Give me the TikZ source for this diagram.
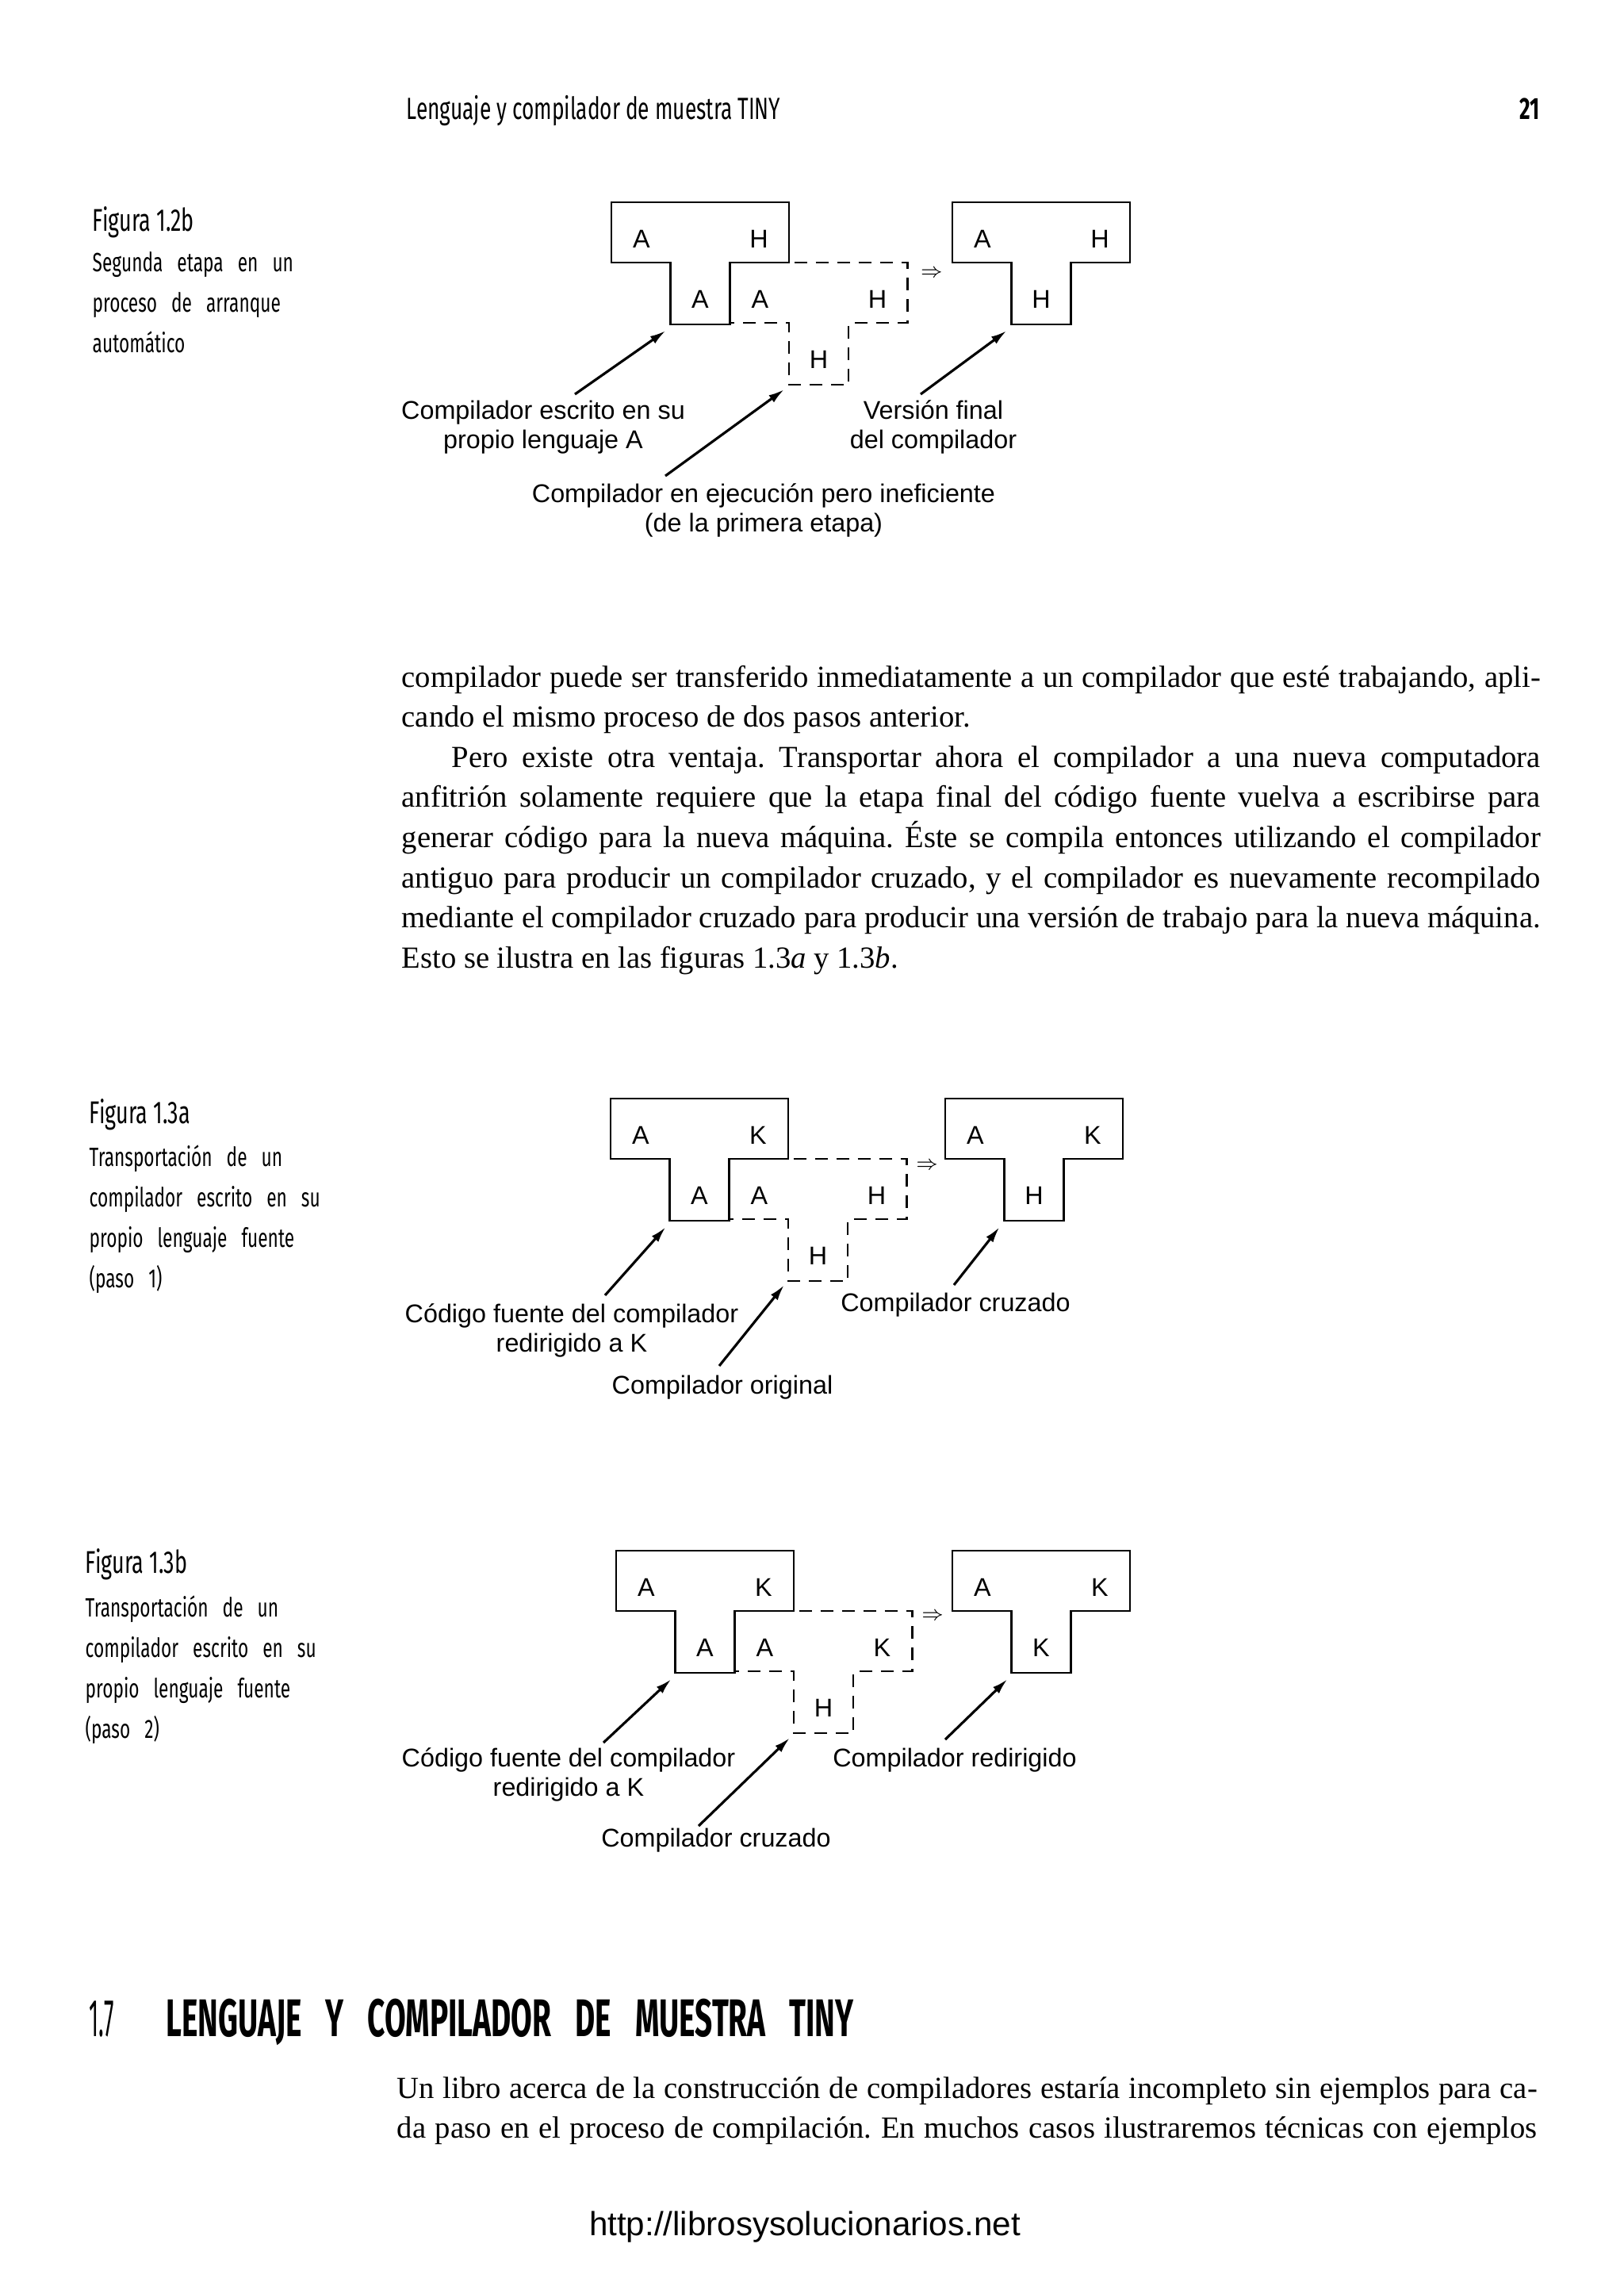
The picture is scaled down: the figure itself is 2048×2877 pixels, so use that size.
\documentclass[tikz,border=0pt]{standalone}
\usepackage{fontspec}
\setmainfont{Liberation Serif}
\newfontfamily\labfont{Liberation Sans}
\newfontfamily\capfont[FakeStretch=0.68]{Fira Sans}
\newfontfamily\headfont[FakeStretch=0.58]{Fira Sans}
\newfontfamily\numfont[FakeStretch=0.42]{Fira Sans}
\usetikzlibrary{arrows.meta}

\begin{document}
\begin{tikzpicture}[x=0.1mm, y=-0.1mm,
  tlet/.style={font=\labfont\fontsize{9.2}{10.4}\selectfont, inner sep=0pt},
  lab/.style={font=\labfont\fontsize{9.2}{10.4}\selectfont, align=center, inner sep=0pt, anchor=base},
  ptr/.style={line width=0.9pt, -{Latex[length=2mm, width=1.1mm]}},
  tdash/.style={dash pattern=on 1.6mm off 1.1mm},
  imp/.style={font=\fontsize{7}{8}\selectfont, inner sep=0pt},
  body/.style={font={\fontsize{11}{14.4}\selectfont\frenchspacing\parindent=0pt\relax}, text width=143.6mm, align=justify, inner sep=0pt, anchor=base west},
  capt/.style={font={\capfont\fontsize{9.5}{14.5}\selectfont\spaceskip=1.8mm\relax}, align=left, inner sep=0pt, anchor=base west},
  fig/.style={font=\capfont\fontsize{11.3}{13}\selectfont, inner sep=0pt, anchor=base west},
  pics/tee/.style n args={3}{code={
    \draw[line width=0.6pt] (0,0) -- (224,0) -- (224,76) -- (149.5,76) -- (149.5,154)
      -- (74.5,154) -- (74.5,76) -- (0,76) -- cycle;
    \node[tlet] (-tl) at (38,46) {#1};
    \node[tlet] (-tr) at (186,46) {#2};
    \node[tlet] (-bt) at (112,122) {#3};
    \coordinate (-sbl) at (74.5,154);
  }}
]
  \path[use as bounding box, fill=white] (0,0) rectangle (2048,2877);

  % page header
  \node[anchor=base west, inner sep=0pt, font=\capfont\fontsize{11}{13}\selectfont] (head) at (512,150) {Lenguaje y compilador de muestra TINY};
  \node[anchor=base east, inner sep=0pt, font=\capfont\bfseries\fontsize{11}{13}\selectfont] (pageno) at (1942,150) {21};

  % Figura 1.2b (multi-line nodes sit on their last line)
  \node[fig] (c1-t) at (116,291) {Figura 1.2b};
  \node[capt] (c1-x) at (116,444) {Segunda etapa en un\\proceso de arranque\\automático};

  \pic[tdash] (f1m) at (920.5,331) {tee={A}{H}{H}};
  \pic (f1l) at (771,255) {tee={A}{H}{A}};
  \pic (f1r) at (1201,255) {tee={A}{H}{H}};
  \node[imp] (f1-to) at (1175,345) {$\Rightarrow$};

  \node[lab] (f1-src) at (685,565) {Compilador escrito en su\\propio lenguaje A};
  \node[lab] (f1-fin) at (1177,565) {Versión final\\del compilador};
  \node[lab] (f1-run) at (963,670) {Compilador en ejecución pero ineficiente\\(de la primera etapa)};

  \coordinate (f1-s1) at (725,497);
  \coordinate (f1-s2) at (839,600);
  \coordinate (f1-s3) at (1161,497);
  \draw[ptr] (f1-s1) -- ([shift={(-6,8)}]f1l-sbl);
  \draw[ptr] (f1-s2) -- ([shift={(-6,6)}]f1m-sbl);
  \draw[ptr] (f1-s3) -- ([shift={(-6,8)}]f1r-sbl);

  % body text
  \node[body] (para1) at (506,866) {compilador puede ser transferido inmediatamente a un compilador que esté trabajando, apli-\linebreak cando el mismo proceso de dos pasos anterior.\par
  \hspace*{6.3mm}Pero existe otra ventaja. Transportar ahora el compilador a una nueva computadora\linebreak anfitrión solamente requiere que la etapa final del código fuente vuelva a escribirse para\linebreak generar código para la nueva máquina. Éste se compila entonces utilizando el compilador\linebreak antiguo para producir un compilador cruzado, y el compilador es nuevamente recompilado\linebreak mediante el compilador cruzado para producir una versión de trabajo para la nueva máquina.\linebreak Esto se ilustra en las figuras 1.3\textit{a} y 1.3\textit{b}.};

  % Figura 1.3a
  \node[fig] (c2-t) at (112,1416) {Figura 1.3a};
  \node[capt] (c2-x) at (112,1623) {Transportación de un\\compilador escrito en su\\propio lenguaje fuente\\(paso 1)};

  \pic[tdash] (f2m) at (919.5,1461) {tee={A}{H}{H}};
  \pic (f2l) at (770,1385) {tee={A}{K}{A}};
  \pic (f2r) at (1192,1385) {tee={A}{K}{H}};
  \node[imp] (f2-to) at (1169,1470) {$\Rightarrow$};

  \node[lab] (f2-src) at (721,1704) {Código fuente del compilador\\redirigido a K};
  \node[lab] (f2-crz) at (1205,1653) {Compilador cruzado};
  \node[lab] (f2-org) at (911,1757) {Compilador original};

  \coordinate (f2-s1) at (763,1633);
  \coordinate (f2-s2) at (907,1722);
  \coordinate (f2-s3) at (1203,1620);
  \draw[ptr] (f2-s1) -- ([shift={(-5,8)}]f2l-sbl);
  \draw[ptr] (f2-s2) -- ([shift={(-5,5)}]f2m-sbl);
  \draw[ptr] (f2-s3) -- ([shift={(-6,8)}]f2r-sbl);

  % Figura 1.3b
  \node[fig] (c3-t) at (107,1983) {Figura 1.3b};
  \node[capt] (c3-x) at (107,2191) {Transportación de un\\compilador escrito en su\\propio lenguaje fuente\\(paso 2)};

  \pic[tdash] (f3m) at (926.5,2031) {tee={A}{K}{H}};
  \pic (f3l) at (777,1955) {tee={A}{K}{A}};
  \pic (f3r) at (1201,1955) {tee={A}{K}{K}};
  \node[imp] (f3-to) at (1176,2038) {$\Rightarrow$};

  \node[lab] (f3-src) at (717,2264) {Código fuente del compilador\\redirigido a K};
  \node[lab] (f3-red) at (1204,2227) {Compilador redirigido};
  \node[lab] (f3-crz) at (903,2328) {Compilador cruzado};

  \coordinate (f3-s1) at (761,2197);
  \coordinate (f3-s2) at (881,2302);
  \coordinate (f3-s3) at (1192,2193);
  \draw[ptr] (f3-s1) -- ([shift={(-5,8)}]f3l-sbl);
  \draw[ptr] (f3-s2) -- ([shift={(-5,6)}]f3m-sbl);
  \draw[ptr] (f3-s3) -- ([shift={(-5,8)}]f3r-sbl);

  % section 1.7
  \node[anchor=base west, inner sep=0pt, font=\numfont\fontsize{19}{22}\selectfont] (sec-num) at (112,2567) {1.7};
  \node[anchor=base west, inner sep=0pt, font={\headfont\bfseries\fontsize{19}{22}\selectfont\spaceskip=3mm\relax}] (sec-title) at (209,2567) {LENGUAJE Y COMPILADOR DE MUESTRA TINY};

  \node[body, text width=143.8mm, font={\fontsize{11}{14.4}\selectfont\frenchspacing\parindent=0pt\parfillskip=0pt\relax}] (para2) at (500,2645) {Un libro acerca de la construcción de compiladores estaría incompleto sin ejemplos para ca-\linebreak da paso en el proceso de compilación. En muchos casos ilustraremos técnicas con ejemplos};

  % footer
  \node[anchor=base, inner sep=0pt, font=\labfont\fontsize{12}{14}\selectfont] (foot) at (1015,2818) {http://librosysolucionarios.net};
\end{tikzpicture}
\end{document}
